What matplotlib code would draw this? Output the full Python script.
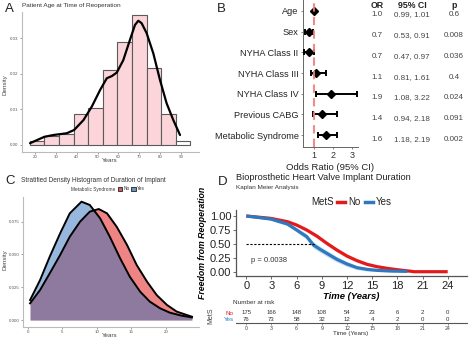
import matplotlib
matplotlib.use("Agg")
import matplotlib.pyplot as plt
from matplotlib.lines import Line2D
from matplotlib.patches import Rectangle
import numpy as np

plt.rcParams['font.family'] = ['Liberation Sans', 'DejaVu Sans']

W, H = 474, 340

# ---------------- data ----------------
# A: age at reoperation (histogram, 7-year bins, density scale) + KDE curve
age_bin_edges = [17.5, 24.5, 31.5, 38.5, 45.5, 52.5, 59.5, 66.5, 73.5, 80.5, 87.5, 94.5]
age_bin_density = [0.0011, 0.0025, 0.0030, 0.0086, 0.0103, 0.0210, 0.0290, 0.0365, 0.0216, 0.0086, 0.0011]
age_kde_x = [17.6, 24.5, 28.8, 35.2, 38.7, 43.2, 47.2, 51.2, 54.4, 56.8, 59.2, 62.3,
             65.5, 67.9, 69.5, 71.1, 73.5, 76.7, 79.9, 83.1, 86.3, 89.5]
age_kde_y = [0.0005, 0.0023, 0.0028, 0.0033, 0.0042, 0.0070, 0.0108, 0.0155, 0.0188, 0.0194,
             0.0204, 0.0239, 0.0296, 0.0338, 0.0350, 0.0343, 0.0315, 0.0258, 0.0183, 0.0117,
             0.0070, 0.0028]
age_ticks = [20, 30, 40, 50, 60, 70, 80, 90]

# B: logistic regression, odds ratios
predictors = ['Age', 'Sex', 'NYHA Class II', 'NYHA Class III', 'NYHA Class IV',
              'Previous CABG', 'Metabolic Syndrome']
odds_ratio = [1.0, 0.7, 0.7, 1.1, 1.9, 1.4, 1.6]
ci_low = [0.99, 0.53, 0.47, 0.81, 1.08, 0.94, 1.18]
ci_high = [1.01, 0.91, 0.97, 1.61, 3.22, 2.18, 2.19]
p_values = ['0.6', '0.008', '0.036', '0.4', '0.024', '0.091', '0.002']

# C: implant duration densities by metabolic syndrome
dur_x_yes = [0.35, 1.8, 3.2, 4.7, 6.1, 7.8, 9.0, 10.5, 11.9, 13.4, 14.8, 16.3, 17.7, 19.2, 20.6, 22.3, 23.8]
dens_yes = [0.0152, 0.0305, 0.0483, 0.0660, 0.0813, 0.0902, 0.0877, 0.0775, 0.0635, 0.0470,
            0.0330, 0.0216, 0.0140, 0.0089, 0.0056, 0.0033, 0.0020]
dur_x_no = [0.35, 1.8, 3.2, 4.7, 6.1, 7.6, 9.0, 10.3, 11.5, 12.9, 14.4, 15.8, 17.3, 18.7, 20.2, 21.6, 23.8]
dens_no = [0.0127, 0.0229, 0.0356, 0.0495, 0.0635, 0.0750, 0.0826, 0.0846, 0.0813, 0.0711,
           0.0572, 0.0419, 0.0292, 0.0190, 0.0114, 0.0064, 0.0025]

# D: Kaplan-Meier freedom from reoperation
km_t_no = [0, 2.9, 4.9, 6.0, 7.2, 8.4, 9.6, 10.8, 12.0, 13.2, 14.4, 15.6, 16.8, 18.0, 19.5, 20.0, 24.0]
km_s_no = [1.0, 0.958, 0.898, 0.838, 0.749, 0.640, 0.509, 0.389, 0.281, 0.198, 0.132, 0.090,
           0.060, 0.036, 0.010, 0.0, 0.0]
km_ci_no = [0.0, 0.010, 0.020, 0.025, 0.030, 0.035, 0.035, 0.035, 0.030, 0.030, 0.025, 0.020,
            0.020, 0.015, 0.010, 0.0, 0.0]
km_t_yes = [0, 2.9, 4.9, 6.0, 7.2, 8.0, 8.8, 9.6, 10.8, 12.0, 13.2, 14.4, 15.6, 17.2, 19.2]
km_s_yes = [1.0, 0.946, 0.856, 0.749, 0.629, 0.479, 0.401, 0.329, 0.222, 0.138, 0.072, 0.042,
            0.024, 0.012, 0.006]
km_ci_yes = [0.0, 0.020, 0.030, 0.040, 0.050, 0.055, 0.055, 0.055, 0.050, 0.045, 0.035, 0.030,
             0.020, 0.015, 0.010]
median_yes = 8.2
p_logrank = 'p = 0.0038'
risk_times = [0, 3, 6, 9, 12, 15, 18, 21, 24]
risk_no = [175, 166, 148, 108, 54, 23, 6, 2, 0]
risk_yes = [76, 73, 58, 32, 12, 4, 2, 0, 0]

RED = '#E31A1C'
BLUE = '#2F78BE'


def rect(x0, y0, x1, y1):
    return [x0 / W, 1 - y1 / H, (x1 - x0) / W, (y1 - y0) / H]


def ftext(x, y, s, **kw):
    kw.setdefault('va', 'center')
    fig.text(x / W, 1 - y / H, s, **kw)


fig = plt.figure(figsize=(W / 100, H / 100), dpi=100)

# ---------------- A ----------------
axA = fig.add_axes(rect(21.7, 12, 199, 151.7))
widths = np.diff(age_bin_edges)
faces = ['#FBD5DA'] * (len(age_bin_density) - 1) + ['white']
axA.bar(age_bin_edges[:-1], age_bin_density, width=widths, align='edge',
        color=faces, edgecolor='#5a5a5a', linewidth=0.8)
axA.plot(age_kde_x, age_kde_y, color='black', lw=1.6, solid_capstyle='round')
axA.set_xlim(13.6, 98.6)
axA.set_ylim(-0.0019, 0.03746)
axA.set_xticks(age_ticks)
axA.set_xticklabels([str(t) for t in age_ticks])
axA.set_yticks([0, 0.01, 0.02, 0.03])
axA.set_yticklabels(['0.00', '0.01', '0.02', '0.03'])
axA.tick_params(labelsize=3.2, length=1.2, width=0.5, colors='#777', labelcolor='#555', pad=1)
for s in ['top', 'right']:
    axA.spines[s].set_visible(False)
for s in ['left', 'bottom']:
    axA.spines[s].set_color('#bbbbbb')
    axA.spines[s].set_linewidth(0.8)
ftext(110, 160.5, 'Years', fontsize=4.5, color='#444', ha='center')
ftext(4.5, 85, 'Density', fontsize=4.5, color='#444', ha='center', rotation=90)
ftext(22, 5, 'Patient Age at Time of Reoperation', fontsize=4.6, color='#333')
ftext(5, 9, 'A', fontsize=9.5, color='#222')

# ---------------- B ----------------
axB = fig.add_axes(rect(302.7, 0, 357.7, 146.7))
rows = np.arange(len(predictors))
err = [np.array(odds_ratio) - np.array(ci_low), np.array(ci_high) - np.array(odds_ratio)]
axB.errorbar(odds_ratio, rows, xerr=err, fmt='D', color='black', ms=4.2,
             elinewidth=1.4, capsize=2, capthick=1.4, zorder=3)
axB.axvline(1, color='#F07F7F', lw=1.5, dashes=(4, 2.5), alpha=0.9, zorder=4)
axB.set_xlim(0.39, 3.28)
axB.set_ylim(6.565, -0.532)
axB.set_yticks(rows)
axB.set_yticklabels(predictors)
axB.set_xticks([1, 2, 3])
axB.tick_params(axis='y', labelsize=6.6, length=1.5, width=0.5, pad=1.5, colors='#555', labelcolor='#222')
axB.tick_params(axis='x', labelsize=6.5, length=1.5, width=0.5, pad=1.5, colors='#555', labelcolor='#333')
for s in ['top', 'right']:
    axB.spines[s].set_visible(False)
for s in ['left', 'bottom']:
    axB.spines[s].set_color('#666')
    axB.spines[s].set_linewidth(0.7)
axB.set_xlabel('Odds Ratio (95% CI)', fontsize=6.8, color='#222', labelpad=2)
ftext(217, 9, 'B', fontsize=9.5, color='#222')

ftext(377, 5, 'OR', fontsize=6.3, fontweight='bold', ha='center', color='#222')
ftext(412, 5, '95% CI', fontsize=6.3, fontweight='bold', ha='center', color='#222')
ftext(454, 5, 'p', fontsize=6.3, fontweight='bold', ha='center', color='#222')
for i in range(len(predictors)):
    yy = 15 + 20.7 * i
    ftext(377, yy, f'{odds_ratio[i]:.1f}', fontsize=5.8, ha='center', color='#444')
    ftext(412, yy, f'{ci_low[i]:.2f}, {ci_high[i]:.2f}', fontsize=5.8, ha='center', color='#444')
    ftext(454, yy, p_values[i], fontsize=5.8, ha='center', color='#444')

# ---------------- C ----------------
axC = fig.add_axes(rect(22.7, 196.7, 199.3, 326.7))
axC.fill_between(dur_x_no, 0, dens_no, color='#E10B0B', alpha=0.5, lw=0)
axC.fill_between(dur_x_yes, 0, dens_yes, color='#3171BB', alpha=0.5, lw=0)
axC.plot(dur_x_no, dens_no, color='black', lw=1.4)
axC.plot(dur_x_yes, dens_yes, color='black', lw=1.4)
axC.set_xlim(-0.72, 24.87)
axC.set_ylim(-0.0051, 0.094)
axC.set_xticks([0, 5, 10, 15, 20])
axC.set_yticks([0, 0.025, 0.05, 0.075])
axC.set_yticklabels(['0.000', '0.025', '0.050', '0.075'])
axC.tick_params(labelsize=3.2, length=1.2, width=0.5, colors='#777', labelcolor='#555', pad=1)
for s in ['top', 'right']:
    axC.spines[s].set_visible(False)
for s in ['left', 'bottom']:
    axC.spines[s].set_color('#bbbbbb')
    axC.spines[s].set_linewidth(0.8)
ftext(110, 335.5, 'Years', fontsize=4.5, color='#444', ha='center')
ftext(4.5, 260, 'Density', fontsize=4.5, color='#444', ha='center', rotation=90)
ftext(21, 180, 'Stratified Density Histogram of Duration of Implant', fontsize=4.7, color='#333')
ftext(5, 181, 'C', fontsize=9.5, color='#222')
ftext(115, 189, 'Metabolic Syndrome', fontsize=3.4, ha='right', color='#333')
for xs, col, lab in [(117.5, '#D05A5E', 'No'), (131, '#6C93BF', 'Yes')]:
    fig.add_artist(Rectangle((xs / W, 1 - 191.3 / H), 4.5 / W, 4.5 / H, transform=fig.transFigure,
                             facecolor=col, edgecolor='#222', lw=0.6))
    ftext(xs + 6, 189, lab, fontsize=3.4, color='#333')

# ---------------- D ----------------
axD = fig.add_axes(rect(236, 210, 467, 276))
lo = np.array(km_s_no) - np.array(km_ci_no)
hi = np.array(km_s_no) + np.array(km_ci_no)
axD.fill_between(km_t_no, np.clip(lo, 0, 1), np.clip(hi, 0, 1), color='#F3A0A0', alpha=0.55, lw=0)
lo = np.array(km_s_yes) - np.array(km_ci_yes)
hi = np.array(km_s_yes) + np.array(km_ci_yes)
axD.fill_between(km_t_yes, np.clip(lo, 0, 1), np.clip(hi, 0, 1), color='#9CC3EA', alpha=0.55, lw=0)
axD.plot(km_t_no, km_s_no, color=RED, lw=2.3, solid_capstyle='butt')
axD.plot(km_t_yes, km_s_yes, color=BLUE, lw=2.3, solid_capstyle='butt')
axD.plot([0, median_yes], [0.5, 0.5], color='black', lw=0.8, ls=(0, (2, 1.5)))
axD.text(0.6, 0.2, p_logrank, fontsize=5.5, color='#333', va='center')
axD.set_xlim(-1.23, 26.3)
axD.set_ylim(-0.077, 1.108)
axD.set_xticks(risk_times)
axD.set_yticks([0, 0.25, 0.5, 0.75, 1.0])
axD.set_yticklabels(['0.00', '0.25', '0.50', '0.75', '1.00'])
axD.tick_params(labelsize=8, length=2, width=0.6, colors='#555', labelcolor='#222', pad=1.5)
for s in ['top', 'right']:
    axD.spines[s].set_visible(False)
for s in ['left', 'bottom']:
    axD.spines[s].set_color('#555')
    axD.spines[s].set_linewidth(0.9)
axD.set_xlabel('Time (Years)', fontsize=6.8, fontweight='bold', fontstyle='italic', labelpad=0.5)
axD.set_ylabel('Freedom from Reoperation', fontsize=6.3, fontweight='bold', fontstyle='italic',
               labelpad=2)
ftext(236, 177, 'Bioprosthetic Heart Valve Implant Duration', fontsize=6.7, color='#222')
ftext(236, 188, 'Kaplan Meier Analysis', fontsize=4.6, color='#333')
ftext(218, 182, 'D', fontsize=9.5, color='#222')

# D legend
ftext(334, 202, 'MetS', fontsize=7, ha='right', color='#222')
for x0, col, lab in [(337, RED, 'No'), (365, BLUE, 'Yes')]:
    fig.add_artist(Line2D([x0 / W, (x0 + 8) / W], [1 - 202 / H, 1 - 202 / H],
                          transform=fig.transFigure, color=col, lw=2.5))
    ftext(x0 + 11, 202, lab, fontsize=7, color='#222')

# risk table
axR = fig.add_axes(rect(236, 307, 467, 322.7))
axR.set_xlim(-1.23, 26.3)
axR.set_ylim(-0.587, 1.905)
for t, n in zip(risk_times, risk_no):
    axR.text(t, 1, str(n), fontsize=4.3, ha='center', va='center', color='#333')
for t, n in zip(risk_times, risk_yes):
    axR.text(t, 0, str(n), fontsize=4.3, ha='center', va='center', color='#333')
axR.set_yticks([1, 0])
axR.set_yticklabels(['No', 'Yes'])
for lbl, col in zip(axR.get_yticklabels(), [RED, BLUE]):
    lbl.set_color(col)
axR.set_xticks(risk_times)
axR.tick_params(axis='y', labelsize=4.5, length=0, pad=1.5)
axR.tick_params(axis='x', labelsize=3.8, length=1.2, width=0.5, colors='#666', labelcolor='#444', pad=1.2)
for s in ['top', 'right', 'left']:
    axR.spines[s].set_visible(False)
axR.spines['bottom'].set_color('#555')
axR.spines['bottom'].set_linewidth(0.8)
ftext(351, 333, 'Time (Years)', fontsize=4.5, color='#333', ha='center')
ftext(233, 303, 'Number at risk', fontsize=4.6, color='#333')
ftext(211, 316, 'MetS', fontsize=5, rotation=90, ha='center', color='#444')

fig.savefig('out.png', dpi=100)
